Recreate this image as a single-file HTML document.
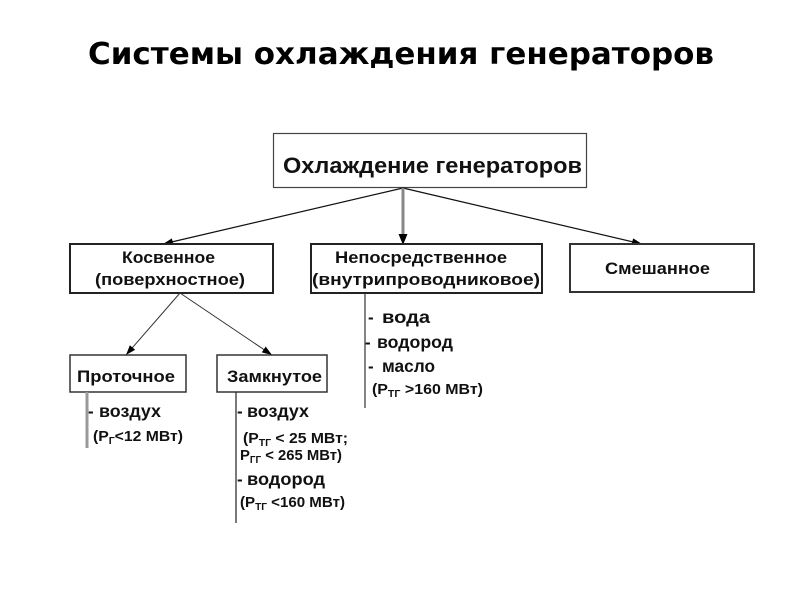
<!DOCTYPE html>
<html>
<head>
<meta charset="utf-8">
<style>
html,body{margin:0;padding:0;background:#fff;}
svg{display:block;}
text{font-family:"Liberation Sans","DejaVu Sans",sans-serif;fill:#111;}
.t{font-family:"DejaVu Sans","Liberation Sans",sans-serif;font-weight:bold;fill:#000;}
.b{font-weight:bold;}
</style>
</head>
<body>
<svg width="800" height="600" viewBox="0 0 800 600" xmlns="http://www.w3.org/2000/svg">
<defs>
<marker id="ah" markerWidth="10" markerHeight="8" refX="10" refY="3.5" orient="auto" markerUnits="userSpaceOnUse">
<path d="M0,0 L10,3.5 L0,7 Z" fill="#000"/>
</marker>
</defs>

<!-- Title -->
<text class="t" x="88" y="64" font-size="30" textLength="626" lengthAdjust="spacingAndGlyphs">Системы охлаждения генераторов</text>

<!-- Top box -->
<rect x="273.5" y="133.5" width="313" height="54" fill="#fff" stroke="#444" stroke-width="1.2"/>
<text class="b" x="283" y="173" font-size="22" textLength="299" lengthAdjust="spacingAndGlyphs">Охлаждение генераторов</text>

<!-- Connectors from top box -->
<line x1="403" y1="188" x2="163" y2="244" stroke="#111" stroke-width="1.2" marker-end="url(#ah)"/>
<line x1="403" y1="188" x2="642" y2="244" stroke="#111" stroke-width="1.2" marker-end="url(#ah)"/>
<line x1="403" y1="188" x2="403" y2="236" stroke="#888" stroke-width="3"/>
<path d="M398.5,234 L407.5,234 L403,245 Z" fill="#000"/>

<!-- Middle row boxes -->
<rect x="70" y="244" width="203" height="49" fill="#fff" stroke="#222" stroke-width="2"/>
<text class="b" x="122" y="263" font-size="17" textLength="93" lengthAdjust="spacingAndGlyphs">Косвенное</text>
<text class="b" x="95" y="285" font-size="17" textLength="150" lengthAdjust="spacingAndGlyphs">(поверхностное)</text>

<rect x="311" y="244" width="231" height="49" fill="#fff" stroke="#222" stroke-width="2"/>
<text class="b" x="335" y="263" font-size="17" textLength="172" lengthAdjust="spacingAndGlyphs">Непосредственное</text>
<text class="b" x="312" y="285" font-size="17" textLength="228" lengthAdjust="spacingAndGlyphs">(внутрипроводниковое)</text>

<rect x="570" y="244" width="184" height="48" fill="#fff" stroke="#333" stroke-width="2"/>
<text class="b" x="605" y="274" font-size="17" textLength="105" lengthAdjust="spacingAndGlyphs">Смешанное</text>

<!-- Connectors from Косвенное -->
<line x1="180" y1="293" x2="126" y2="355" stroke="#333" stroke-width="1" marker-end="url(#ah)"/>
<line x1="180" y1="293" x2="272" y2="355" stroke="#333" stroke-width="1" marker-end="url(#ah)"/>

<!-- Bottom boxes -->
<rect x="70" y="355" width="116" height="37" fill="#fff" stroke="#333" stroke-width="1.5"/>
<text class="b" x="77" y="382" font-size="17" textLength="98" lengthAdjust="spacingAndGlyphs">Проточное</text>

<rect x="217" y="355" width="110" height="37" fill="#fff" stroke="#333" stroke-width="1.5"/>
<text class="b" x="227" y="382" font-size="17" textLength="95" lengthAdjust="spacingAndGlyphs">Замкнутое</text>

<!-- Vertical list lines -->
<line x1="87" y1="392" x2="87" y2="448" stroke="#999" stroke-width="3"/>
<line x1="236" y1="392" x2="236" y2="523" stroke="#222" stroke-width="1.2"/>
<line x1="365" y1="293" x2="365" y2="408" stroke="#333" stroke-width="1.2"/>

<!-- Проточное list -->
<text class="b" x="88" y="417" font-size="17">-</text>
<text class="b" x="99" y="417" font-size="17.5" textLength="62" lengthAdjust="spacingAndGlyphs">воздух</text>
<text class="b" x="93" y="441" font-size="15" textLength="90" lengthAdjust="spacingAndGlyphs">(P<tspan font-size="10" dy="3">Г</tspan><tspan dy="-3">&lt;12 МВт)</tspan></text>

<!-- Замкнутое list -->
<text class="b" x="237" y="417" font-size="17">-</text>
<text class="b" x="247" y="417" font-size="17.5" textLength="62" lengthAdjust="spacingAndGlyphs">воздух</text>
<text class="b" x="243" y="443" font-size="15" textLength="105" lengthAdjust="spacingAndGlyphs">(P<tspan font-size="10" dy="3">ТГ</tspan><tspan dy="-3"> &lt; 25 МВт;</tspan></text>
<text class="b" x="240" y="460" font-size="15" textLength="102" lengthAdjust="spacingAndGlyphs">P<tspan font-size="10" dy="3">ГГ</tspan><tspan dy="-3"> &lt; 265 МВт)</tspan></text>
<text class="b" x="237" y="485" font-size="17">-</text>
<text class="b" x="247" y="485" font-size="17.5" textLength="78" lengthAdjust="spacingAndGlyphs">водород</text>
<text class="b" x="240" y="507" font-size="15" textLength="105" lengthAdjust="spacingAndGlyphs">(P<tspan font-size="10" dy="3">ТГ</tspan><tspan dy="-3"> &lt;160 МВт)</tspan></text>

<!-- Непосредственное list -->
<text class="b" x="368" y="323" font-size="17">-</text>
<text class="b" x="382" y="323" font-size="17.5" textLength="48" lengthAdjust="spacingAndGlyphs">вода</text>
<text class="b" x="365" y="348" font-size="17">-</text>
<text class="b" x="377" y="348" font-size="17.5" textLength="76" lengthAdjust="spacingAndGlyphs">водород</text>
<text class="b" x="368" y="372" font-size="17">-</text>
<text class="b" x="382" y="372" font-size="17.5" textLength="53" lengthAdjust="spacingAndGlyphs">масло</text>
<text class="b" x="372" y="394" font-size="15" textLength="111" lengthAdjust="spacingAndGlyphs">(P<tspan font-size="10" dy="3">ТГ</tspan><tspan dy="-3">  &gt;160 МВт)</tspan></text>
</svg>
</body>
</html>
